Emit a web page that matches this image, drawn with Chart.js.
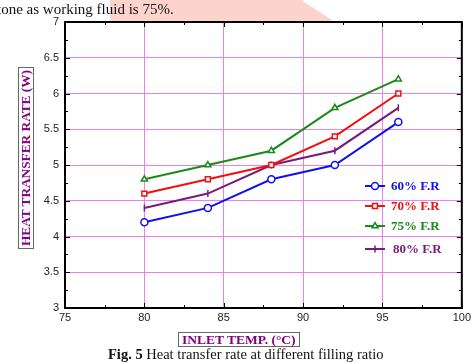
<!DOCTYPE html>
<html>
<head>
<meta charset="utf-8">
<script src="https://cdn.jsdelivr.net/npm/chart.js@4"></script>
<style>
  html, body { margin: 0; padding: 0; background: #fff; }
  #wrap { position: relative; width: 474px; height: 363px; overflow: hidden; }
  #mark { position: absolute; left: 110px; top: 0; width: 225px; height: 22px; background: #fcd4cd;
          clip-path: polygon(0 0, 85% 0, 100% 100%, 0 100%); }
  #chart { position: absolute; left: 0; top: 0; }
  .serif { font-family: "Liberation Serif", "DejaVu Serif", serif; position: absolute; white-space: nowrap; }
  #top { left: -3px; top: 1px; font-size: 15px; color: #111; }
  #ytitle { left: 26px; top: 158px; transform: translate(-50%, -50%) rotate(-90deg); font-size: 13.3px; font-weight: bold;
            color: #800080; border: 1px solid #666; padding: 0 2px; line-height: 14px; }
  #xtitle { left: 178px; top: 332px; font-size: 13.5px; font-weight: bold; color: #800080; border: 1px solid #666;
            padding: 0 3px; line-height: 13px; }
  #cap { left: 108px; top: 346px; font-size: 14.5px; color: #111; }
</style>
</head>
<body>
<div id="wrap">
  <div id="mark"></div>
  <canvas id="chart" width="474" height="363"></canvas>
  <div class="serif" id="top">tone as working fluid is 75%.</div>
  <div class="serif" id="ytitle">HEAT TRANSFER RATE (W)</div>
  <div class="serif" id="xtitle">INLET TEMP. (°C)</div>
  <div class="serif" id="cap"><b>Fig. 5</b> Heat transfer rate at different filling ratio</div>
</div>
<script>
const inletTemp = [80, 84, 88, 92, 96];
const fr60 = [4.2, 4.4, 4.8, 5.0, 5.6];
const fr70 = [4.6, 4.8, 5.0, 5.4, 6.0];
const fr75 = [4.8, 5.0, 5.2, 5.8, 6.2];
const fr80 = [4.4, 4.6, 5.0, 5.2, 5.8];
const seriesLabels = ['60% F.R', '70% F.R', '75% F.R', '80% F.R'];
const xTicks = [75, 80, 85, 90, 95, 100];
const yTicks = [3, 3.5, 4, 4.5, 5, 5.5, 6, 6.5, 7];

function toPoints(vals) {
  return vals.map((v, i) => ({ x: inletTemp[i], y: v }));
}

function makeSet(label, vals, color, style, radius, rot) {
  return {
    label: label,
    data: toPoints(vals),
    borderColor: color,
    backgroundColor: '#fff',
    borderWidth: 2,
    pointStyle: style,
    pointRadius: radius,
    pointRotation: rot || 0,
    pointBorderWidth: 1.5,
    pointBorderColor: color,
    tension: 0
  };
}

// minor ticks + custom legend
const extras = {
  id: 'extras',
  afterDatasetsDraw(chart) {
    const ctx = chart.ctx;
    const a = chart.chartArea;
    const xs = chart.scales.x, ys = chart.scales.y;
    ctx.save();
    ctx.strokeStyle = '#000';
    ctx.lineWidth = 1;
    ctx.beginPath();
    for (let v = 75; v <= 100; v += 2.5) {
      const px = Math.round(xs.getPixelForValue(v)) + 0.5;
      const len = (v % 5 === 0) ? 5 : 3;
      ctx.moveTo(px, a.bottom); ctx.lineTo(px, a.bottom - len);
      ctx.moveTo(px, a.top); ctx.lineTo(px, a.top + len);
    }
    for (let v = 3; v <= 7; v += 0.25) {
      const py = Math.round(ys.getPixelForValue(v)) + 0.5;
      const len = (Math.abs(v * 2 - Math.round(v * 2)) < 1e-6) ? 5 : 3;
      ctx.moveTo(a.left, py); ctx.lineTo(a.left + len, py);
      ctx.moveTo(a.right, py); ctx.lineTo(a.right - len, py);
    }
    ctx.stroke();
    ctx.lineWidth = 2;
    ctx.strokeRect(a.left, a.top, a.right - a.left, a.bottom - a.top);

    // legend
    const rows = [186, 206, 226, 249];
    chart.data.datasets.forEach((ds, i) => {
      const y = rows[i];
      ctx.strokeStyle = ds.borderColor;
      ctx.lineWidth = 2;
      ctx.beginPath();
      ctx.moveTo(365, y); ctx.lineTo(385, y);
      ctx.stroke();
      ctx.lineWidth = 1.5;
      ctx.fillStyle = '#fff';
      Chart.helpers.drawPoint(ctx, {
        pointStyle: ds.pointStyle, radius: ds.pointRadius, rotation: ds.pointRotation,
        borderWidth: 1.5
      }, 375, y);
      ctx.fillStyle = ds.borderColor;
      ctx.font = 'bold 13px "Liberation Serif", serif';
      ctx.textBaseline = 'middle';
      ctx.fillText(ds.label, i === 3 ? 393 : 391, y + 1);
    });
    ctx.restore();
  }
};

new Chart(document.getElementById('chart'), {
  type: 'line',
  data: {
    datasets: [
      makeSet(seriesLabels[0], fr60, '#1010f0', 'circle', 3.5),
      makeSet(seriesLabels[1], fr70, '#f01010', 'rect', 3.5),
      makeSet(seriesLabels[2], fr75, '#1a8a1a', 'triangle', 3.5),
      makeSet(seriesLabels[3], fr80, '#7a1a7a', 'line', 3.5, 90)
    ]
  },
  options: {
    responsive: false,
    animation: false,
    layout: { padding: { left: 0, right: 8, top: 22, bottom: 35 } },
    plugins: { legend: { display: false }, tooltip: { enabled: false } },
    scales: {
      x: {
        type: 'linear',
        min: 75, max: 100,
        afterBuildTicks: s => { s.ticks = xTicks.map(v => ({ value: v })); },
        afterFit: s => { s.height = 20; },
        grid: { color: '#ec80ec', lineWidth: 1, drawTicks: false },
        border: { display: false },
        ticks: { padding: 3, color: '#222', font: { family: 'Liberation Sans', size: 11 }, maxRotation: 0,
                 callback: v => String(v) }
      },
      y: {
        min: 3, max: 7,
        afterBuildTicks: s => { s.ticks = yTicks.map(v => ({ value: v })); },
        afterFit: s => { s.width = 65; },
        grid: { color: '#ec80ec', lineWidth: 1, drawTicks: false },
        border: { display: false },
        ticks: { padding: 6, color: '#222', font: { family: 'Liberation Sans', size: 11 },
                 callback: v => String(v) }
      }
    }
  },
  plugins: [extras]
});
</script>
</body>
</html>
